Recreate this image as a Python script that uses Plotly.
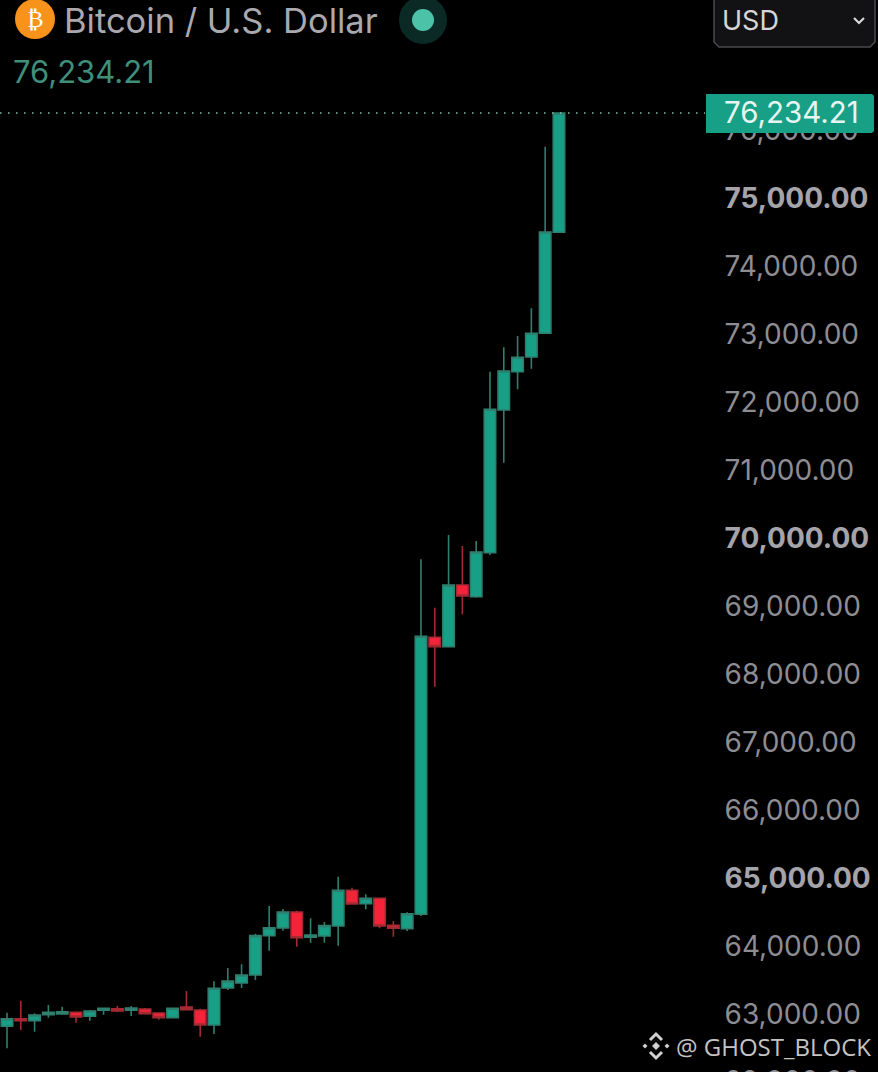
import plotly.graph_objects as go

# BTC/USD candles
candle_index = list(range(41))
opens = [62804, 62916, 62887, 62975, 62985, 63010, 62951, 63040, 63063, 63040, 63059, 63000, 62931, 63088,
         63044, 62824, 63368, 63441, 63559, 64137, 64250, 64485, 64113, 64132, 64279, 64804, 64607, 64687,
         64290, 64240, 64451, 68525, 68387, 69294, 69122, 69769, 71868, 72431, 72647, 72996, 74481]
highs = [63004, 63181, 62996, 63118, 63093, 63019, 63044, 63074, 63103, 63103, 63074, 63010, 63069, 63324,
         63063, 63466, 63662, 63716, 64166, 64574, 64529, 64504, 64393, 64338, 65004, 64843, 64746, 64696,
         64353, 64481, 69672, 68960, 70030, 69868, 69941, 72431, 72790, 72956, 73363, 75740, 76234.21]
lows = [62481, 62750, 62725, 62931, 62975, 62857, 62887, 62975, 63015, 62956, 62981, 62901, 62931, 63040,
        62651, 62691, 63338, 63368, 63485, 63916, 64210, 63975, 64034, 64034, 63990, 64593, 64525, 64246,
        64122, 64206, 64426, 67799, 68378, 68863, 69107, 69735, 71093, 72172, 72475, 72996, 74481]
closes = [62916, 62887, 62971, 63010, 63019, 62941, 63029, 63069, 63029, 63074, 62990, 62931, 63069, 63049,
          62824, 63363, 63471, 63559, 64137, 64254, 64485, 64107, 64147, 64284, 64804, 64603, 64687, 64279,
          64246, 64460, 68540, 68387, 69294, 69132, 69779, 71878, 72441, 72643, 72996, 74485, 76234.21]

tick_values = [63000, 64000, 65000, 66000, 67000, 68000, 69000, 70000, 71000, 72000, 73000, 74000, 75000, 76000]
bold_ticks = [65000, 70000, 75000]
last_price = 76234.21

BG = '#000000'
GREEN = '#17a086'
RED = '#f5233a'
TICK_GREY = '#8d8d93'
W, H = 878, 1072
PLOT_W = 716


def px_x(x):
    return x / PLOT_W


def px_y(y):
    return 1 - y / H


def path(points, close=True):
    s = 'M ' + ' L '.join(f'{px_x(x):.5f},{px_y(y):.5f}' for x, y in points)
    return s + (' Z' if close else '')


def circle(cx, cy, r, color):
    return dict(type='circle', xref='paper', yref='paper', x0=px_x(cx - r), x1=px_x(cx + r),
                y0=px_y(cy + r), y1=px_y(cy - r), fillcolor=color, line=dict(width=0))


def label(x, y, text, size, color, family='Inter', anchor='left'):
    return dict(xref='paper', yref='paper', x=px_x(x), y=px_y(y), text=text, showarrow=False,
                xanchor=anchor, yanchor='middle', font=dict(family=family, size=size, color=color))


def tick_label(v):
    s = f'{v:,.2f}'
    if v in bold_ticks:
        return f'<b><span style="color:#a4a4aa">{s}</span></b>'
    return s


fig = go.Figure(go.Candlestick(
    x=candle_index, open=opens, high=highs, low=lows, close=closes,
    increasing=dict(fillcolor=GREEN, line=dict(color='#2f7f6f', width=1.6)),
    decreasing=dict(fillcolor=RED, line=dict(color='#a32a33', width=1.6)),
    whiskerwidth=0,
))

shapes = [
    # last price line and tag
    dict(type='line', xref='paper', yref='y', x0=0, x1=px_x(705), y0=last_price, y1=last_price,
         line=dict(color='#7fbdae', width=1.5, dash='1.5px,6.5px')),
    dict(type='path', xref='paper', yref='paper', fillcolor=GREEN, line=dict(width=0),
         path=path([(706, 94), (872, 94), (874, 96), (874, 131), (872, 133), (706, 133)])),
    # header icons
    circle(35, 19, 20, '#f7931a'),
    circle(423, 20, 24, '#0b2a25'),
    circle(423, 20, 11, '#4cc2a9'),
    # USD dropdown
    dict(type='path', xref='paper', yref='paper', fillcolor='#121214', line=dict(color='#4a4a4e', width=1.5),
         path=path([(714, -5), (875, -5), (875, 42), (870, 47), (719, 47), (714, 42)])),
    dict(type='path', xref='paper', yref='paper', line=dict(color='#d8d8d8', width=2.2),
         path=path([(854, 18), (859, 23), (864, 18)], close=False)),
    # watermark diamond
    dict(type='path', xref='paper', yref='paper', line=dict(color='#d0d0d0', width=3),
         path=path([(650, 1040), (656, 1034), (662, 1040)], close=False)),
    dict(type='path', xref='paper', yref='paper', line=dict(color='#d0d0d0', width=3),
         path=path([(650, 1052), (656, 1058), (662, 1052)], close=False)),
    dict(type='path', xref='paper', yref='paper', fillcolor='#d0d0d0', line=dict(width=0),
         path=path([(656, 1042), (660, 1046), (656, 1050), (652, 1046)])),
    dict(type='path', xref='paper', yref='paper', fillcolor='#d0d0d0', line=dict(width=0),
         path=path([(645, 1043.5), (647.5, 1046), (645, 1048.5), (642.5, 1046)])),
    dict(type='path', xref='paper', yref='paper', fillcolor='#d0d0d0', line=dict(width=0),
         path=path([(667, 1043.5), (669.5, 1046), (667, 1048.5), (664.5, 1046)])),
]

annotations = [
    label(62, 20, 'Bitcoin / U.S. Dollar', 34.5, '#a9a9af'),
    label(35, 19, '₿', 24, '#ffffff', family='DejaVu Sans', anchor='center'),
    label(11, 72, '76,234.21', 31, '#3f8f7b'),
    label(720, 20, 'USD', 27, '#d6d6d6'),
    label(722, 112, '76,234.21', 29.5, '#e6f5f1'),
    label(722, 1081, '62,000.00', 28, TICK_GREY),
    label(674, 1046, '@ GHOST_BLOCK', 24, '#c4c4c4', family='Open Sans'),
]

fig.update_layout(
    width=W, height=H,
    margin=dict(l=0, r=W - PLOT_W, t=0, b=0),
    plot_bgcolor=BG,
    paper_bgcolor=BG,
    showlegend=False,
    shapes=shapes,
    annotations=annotations,
    boxgap=0.17,
    boxgroupgap=0,
    xaxis=dict(range=[-0.507, 51.38], visible=False, rangeslider=dict(visible=False)),
    yaxis=dict(
        range=[62132, 77897], side='right', showgrid=False, zeroline=False, showline=False,
        tickmode='array', tickvals=tick_values, ticktext=[tick_label(v) for v in tick_values],
        ticks='outside', ticklen=2, tickcolor=BG, ticklabelshift=1,
        tickfont=dict(family='Inter', size=28, color=TICK_GREY),
    ),
)

fig.write_html("out.html", config=dict(displayModeBar=False),
               post_script="document.body.style.margin='0';document.body.style.background='#000';")
